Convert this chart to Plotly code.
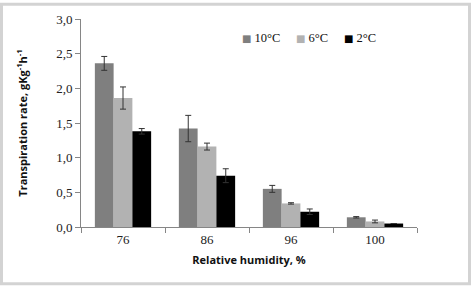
import plotly.graph_objects as go

categories = ["76", "86", "96", "100"]
series_names = ["10°C", "6°C", "2°C"]
vals_10 = [2.36, 1.42, 0.55, 0.14]
err_10 = [0.10, 0.19, 0.05, 0.01]
vals_6 = [1.86, 1.16, 0.34, 0.08]
err_6 = [0.16, 0.05, 0.01, 0.02]
vals_2 = [1.38, 0.74, 0.22, 0.05]
err_2 = [0.04, 0.10, 0.04, 0.0]
colors = ["#7f7f7f", "#b2b2b2", "#000000"]

W, H = 474, 286
ML, MR, MT, MB = 81, 57, 16, 59

fig = go.Figure()
for name, v, e, c in zip(series_names, [vals_10, vals_6, vals_2], [err_10, err_6, err_2], colors):
    fig.add_trace(go.Bar(
        x=categories, y=v, name=name, showlegend=False,
        marker=dict(color=c, line=dict(width=0)),
        error_y=dict(type="data", array=e, visible=True, color="#333333", thickness=1, width=3),
    ))

pw = W - ML - MR
ph = H - MT - MB
def px_x(x):
    return (x - ML) / pw
def px_y(y):
    return (H - MB - y) / ph

fig.add_shape(type="rect", xref="paper", yref="paper",
              x0=px_x(1.5), x1=px_x(469.5), y0=px_y(284.5), y1=px_y(1),
              line=dict(color="#d3d3d3", width=3), fillcolor="rgba(0,0,0,0)", layer="below")

# legend as text entries (colored square + label)
legend_left = [240, 294, 342]
for name, c, lx in zip(series_names, colors, legend_left):
    fig.add_annotation(
        xref="paper", yref="paper", x=px_x(lx), y=px_y(35), xanchor="left", yanchor="middle",
        showarrow=False,
        text=f"<span style='color:{c};font-family:DejaVu Sans;font-size:10px'>■</span> {name}",
        font=dict(family="Liberation Serif", size=12.5, color="#111111"),
    )

fig.update_layout(
    width=W, height=H,
    margin=dict(l=ML, r=MR, t=MT, b=MB),
    paper_bgcolor="white", plot_bgcolor="white",
    barmode="group", bargap=0.33, bargroupgap=0,
    font=dict(family="Liberation Serif", size=12, color="#222222"),
    showlegend=False,
    xaxis=dict(
        showline=True, linecolor="#868686", linewidth=1,
        ticks="outside", ticklen=5, tickcolor="#868686", tickson="boundaries",
        showgrid=False, tickfont=dict(family="Liberation Serif", size=13, color="#222222"),
        title=dict(text="Relative humidity, %", standoff=10,
                   font=dict(family="Open Sans", size=11, color="#111111", weight="bold")),
    ),
    yaxis=dict(
        range=[0, 3.0], dtick=0.5, tickformat=".1f",
        showline=True, linecolor="#868686", linewidth=1,
        ticks="outside", ticklen=5, tickcolor="#868686",
        showgrid=False, zeroline=False,
        tickfont=dict(family="Liberation Serif", size=13, color="#222222"),
        title=dict(text="Transpiration rate, gKg<sup>-1</sup>h<sup>-1</sup>", standoff=26,
                   font=dict(family="Open Sans", size=11, color="#111111", weight="bold")),
    ),
    separators=",.",
)

fig.write_html("out.html")
